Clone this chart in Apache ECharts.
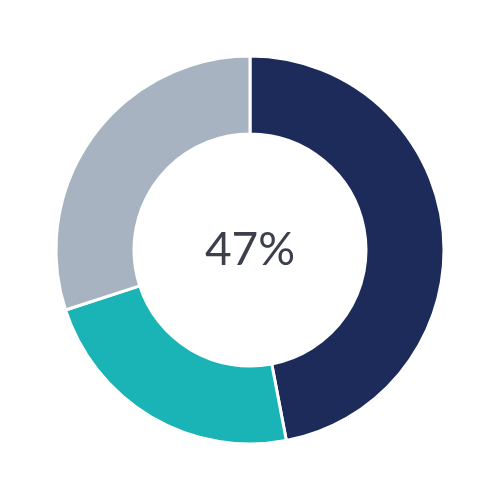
<!DOCTYPE html>
<html><head><meta charset="utf-8">
<script src="https://cdn.jsdelivr.net/npm/echarts@6/dist/echarts.min.js"></script>
<style>html,body{margin:0;padding:0;background:#fff}#c{width:500px;height:500px}</style>
</head><body><div id="c"></div>
<script>
const categories = ['A', 'B', 'C'];
const values = [47, 23, 30];
const colors = ['#1c2b5a', '#1ab4b6', '#a8b3c1'];
const centerLabel = '47%';
const chart = echarts.init(document.getElementById('c'));
chart.setOption({
  animation: false,
  title: {
    text: centerLabel, left: 'center', top: 'middle',
    textStyle: { fontFamily: 'Lato', fontWeight: 'normal', fontSize: 46, color: '#3b404b' }
  },
  series: [{
    type: 'pie',
    center: ['50%', '50%'],
    radius: [116, 194],
    startAngle: 90,
    clockwise: true,
    label: { show: false },
    labelLine: { show: false },
    itemStyle: { borderColor: '#fff', borderWidth: 3 },
    data: categories.map((c, i) => ({ name: c, value: values[i], itemStyle: { color: colors[i] } }))
  }]
});
</script></body></html>
